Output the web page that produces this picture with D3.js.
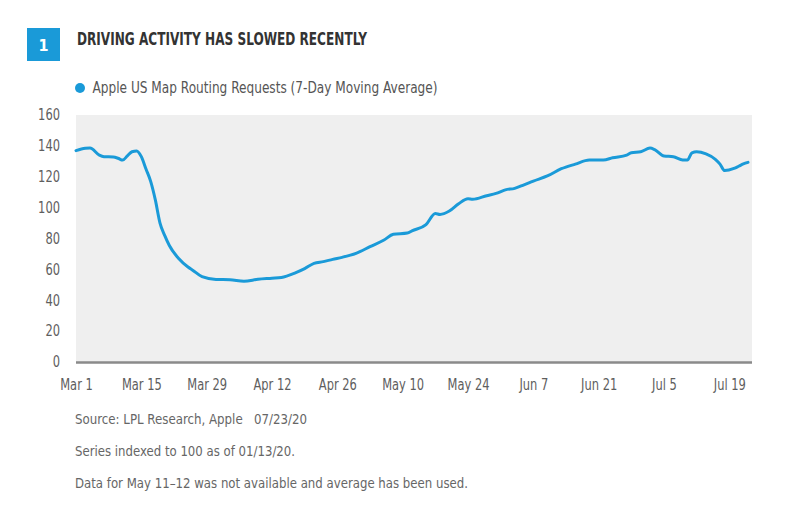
<!DOCTYPE html>
<html>
<head>
<meta charset="utf-8">
<script src="https://cdn.jsdelivr.net/npm/d3@7"></script>
<style>
  body { margin: 0; background: #fff; }
  text { font-family: "Liberation Sans Narrow", "DejaVu Sans Condensed", "Roboto", sans-serif; }
</style>
</head>
<body>
<svg id="chart" width="811" height="520"></svg>
<script>
// apple routing requests, 7-day avg
var dates = ["2020-03-01","2020-03-03","2020-03-04","2020-03-06","2020-03-07","2020-03-09","2020-03-10",
	"2020-03-11","2020-03-12","2020-03-13","2020-03-14","2020-03-15","2020-03-16","2020-03-17","2020-03-18",
	"2020-03-19","2020-03-20","2020-03-21","2020-03-23","2020-03-25","2020-03-26","2020-03-28","2020-03-31",
	"2020-04-03","2020-04-06","2020-04-09","2020-04-12","2020-04-14","2020-04-17","2020-04-19","2020-04-21",
	"2020-04-23","2020-04-25","2020-04-27","2020-04-30","2020-05-03","2020-05-06","2020-05-08","2020-05-11",
	"2020-05-12","2020-05-15","2020-05-17","2020-05-18","2020-05-20","2020-05-22","2020-05-24","2020-05-25",
	"2020-05-28","2020-05-30","2020-06-01","2020-06-03","2020-06-05","2020-06-07","2020-06-10","2020-06-13",
	"2020-06-16","2020-06-19","2020-06-22","2020-06-24","2020-06-27","2020-06-28","2020-06-30","2020-07-02",
	"2020-07-03","2020-07-05","2020-07-07","2020-07-09","2020-07-10","2020-07-11","2020-07-12","2020-07-14",
	"2020-07-16","2020-07-17","2020-07-18","2020-07-20","2020-07-21","2020-07-22","2020-07-23"];
var values = [136.9,138.4,138.6,134,133,132.8,132,
	130.8,133.5,136.2,136.7,133,125,117,105,
	90,82,75.5,67,61.5,59.5,55.3,53.5,
	53.3,52.3,53.6,54.3,54.8,57.8,60.5,63.9,
	65,66.5,67.8,70.4,74.7,79,82.7,83.5,
	85,89,96.2,95.6,97.8,102.5,105.8,105.4,
	107.7,109.2,111.5,112.5,114.8,117.2,120.5,125.2,
	128.2,130.8,130.8,132.3,134,135.6,136.2,138.6,
	137.6,133.4,133,130.9,130.8,135.5,136.2,134.8,
	131.3,128.2,124,125.4,126.8,128.3,129.3];

var yTicks = [0, 20, 40, 60, 80, 100, 120, 140, 160];
var xTickDates = ["2020-03-01","2020-03-15","2020-03-29","2020-04-12","2020-04-26","2020-05-10",
	"2020-05-24","2020-06-07","2020-06-21","2020-07-05","2020-07-19"];
var xTickLabels = ["Mar 1","Mar 15","Mar 29","Apr 12","Apr 26","May 10","May 24","Jun 7","Jun 21","Jul 5","Jul 19"];

var title = "DRIVING ACTIVITY HAS SLOWED RECENTLY";
var legendLabel = "Apple US Map Routing Requests (7-Day Moving Average)";
var notes = ["Source: LPL Research, Apple   07/23/20",
	"Series indexed to 100 as of 01/13/20.",
	"Data for May 11\u201312 was not available and average has been used."];

var blue = "#1a9ad8";
var parse = d3.timeParse("%Y-%m-%d");

var svg = d3.select("#chart");

var x = d3.scaleTime()
	.domain([parse("2020-03-01"), parse("2020-07-23")])
	.range([76, 748]);
var y = d3.scaleLinear()
	.domain([0, 160])
	.range([362, 115]);

// squeeze a text a bit, the original font is narrower
function narrow(sel, k) {
	sel.each(function() {
		var w = this.getComputedTextLength();
		d3.select(this)
			.attr("textLength", w * k)
			.attr("lengthAdjust", "spacingAndGlyphs");
	});
}

// header
svg.append("rect")
	.attr("x", 27).attr("y", 28)
	.attr("width", 33).attr("height", 33)
	.style("fill", blue);
svg.append("text")
	.text("1")
	.attr("x", 43.5).attr("y", 51)
	.attr("text-anchor", "middle")
	.style("font-size", "16px").style("font-weight", "bold")
	.style("fill", "#fff");
svg.append("text")
	.text(title)
	.attr("x", 77).attr("y", 45)
	.attr("textLength", 290).attr("lengthAdjust", "spacingAndGlyphs")
	.style("font-size", "17px").style("font-weight", "bold")
	.style("fill", "#333");

// legend
svg.append("circle")
	.attr("cx", 80).attr("cy", 88)
	.attr("r", 5)
	.style("fill", blue);
svg.append("text")
	.text(legendLabel)
	.attr("x", 92.5).attr("y", 93)
	.attr("textLength", 345).attr("lengthAdjust", "spacingAndGlyphs")
	.style("font-size", "15px")
	.style("fill", "#555");

// plot bg
svg.append("rect")
	.attr("x", 76).attr("y", 115)
	.attr("width", 752 - 76).attr("height", 362 - 115)
	.style("fill", "#efefef");

// y axis labels
var yAxis = svg.append("g")
	.attr("transform", "translate(62,0)")
	.call(d3.axisLeft(y).tickValues(yTicks).tickSize(0).tickPadding(2));
yAxis.select(".domain").remove();
yAxis.selectAll("text")
	.attr("font-family", null)
	.style("font-size", "15px")
	.style("fill", "#5e5e5e")
	.call(narrow, 0.85);

// x axis
var xAxis = svg.append("g")
	.attr("transform", "translate(0,362)")
	.call(d3.axisBottom(x)
		.tickValues(xTickDates.map(parse))
		.tickFormat(function(d, i) { return xTickLabels[i]; })
		.tickSize(0).tickPadding(17));
xAxis.select(".domain").remove();
xAxis.selectAll("text")
	.attr("font-family", null)
	.style("font-size", "15px")
	.style("fill", "#5e5e5e")
	.call(narrow, 0.85);

svg.append("line")
	.attr("x1", 76).attr("x2", 752)
	.attr("y1", 362.5).attr("y2", 362.5)
	.style("stroke", "#8a8a8a")
	.style("stroke-width", 2.5);

// the line
var line = d3.line()
	.x(function(d) { return x(d.date); })
	.y(function(d) { return y(d.value); })
	.curve(d3.curveMonotoneX);

var series = dates.map(function(d, i) { return { date: parse(d), value: values[i] }; });

svg.append("path")
	.datum(series)
	.attr("d", line)
	.style("fill", "none")
	.style("stroke", blue)
	.style("stroke-width", 3)
	.style("stroke-linejoin", "round")
	.style("stroke-linecap", "round");

// footnotes
var noteWidths = [232, 220, 393];
svg.selectAll(".note")
	.data(notes)
	.enter().append("text")
	.attr("class", "note")
	.text(function(d) { return d; })
	.attr("x", 75)
	.attr("y", function(d, i) { return 424 + i * 32; })
	.attr("textLength", function(d, i) { return noteWidths[i]; })
	.attr("lengthAdjust", "spacingAndGlyphs")
	.style("white-space", "pre")
	.style("font-size", "14.5px")
	.style("fill", "#666");
</script>
</body>
</html>
